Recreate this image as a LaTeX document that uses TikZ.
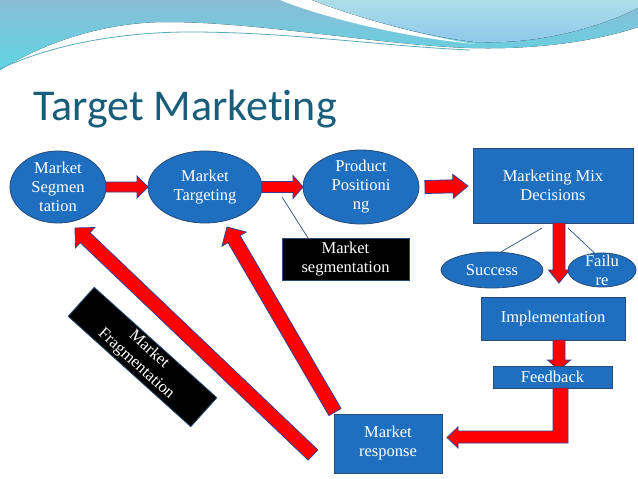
\documentclass[tikz,border=0pt]{standalone}
\usepackage{fontspec}
\newfontfamily\titlefont[Ligatures=NoCommon]{Carlito}
\newfontfamily\boxfont{Liberation Serif}
\usetikzlibrary{shapes.geometric,calc}
\definecolor{boxblue}{RGB}{31,111,192}
\definecolor{edgeblue}{RGB}{40,75,120}
\definecolor{arrowedge}{RGB}{60,60,140}
\definecolor{lineblue}{RGB}{40,80,130}
\definecolor{titleteal}{RGB}{24,93,122}
\definecolor{bgtop}{RGB}{136,190,214}
\definecolor{bgbot}{RGB}{96,212,228}
\definecolor{lighttop}{RGB}{172,222,232}
\definecolor{lightbot}{RGB}{140,200,236}
\definecolor{wavestroke}{RGB}{90,170,190}
\newcommand\nodefont{\boxfont\fontsize{16.5}{19}\selectfont}
% block arrow: [opts]{from}{to}{shaft half width}{head half width}{head length}  (numbers in pt)
\newcommand\blockarrow[6][]{%
  \coordinate (bah) at ($(#3)!#6pt!(#2)$);
  \draw[redarrow,#1] ($(#2)!#4pt!90:(#3)$) -- ($(bah)!#4pt!90:(#3)$) -- ($(bah)!#5pt!90:(#3)$)
    -- (#3) -- ($(bah)!#5pt!-90:(#3)$) -- ($(bah)!#4pt!-90:(#3)$) -- ($(#2)!#4pt!-90:(#3)$) -- cycle;
}
\tikzset{
  txt/.style={text=white, font=\nodefont, align=center, inner sep=0pt},
  bluebox/.style={draw=edgeblue, fill=boxblue, line width=0.8pt, inner sep=0pt, outer sep=0pt, txt},
  blueell/.style={bluebox, ellipse},
  blackbox/.style={draw=edgeblue, fill=black, line width=0.8pt, inner sep=0pt, outer sep=0pt, txt},
  callout/.style={draw=lineblue, line width=0.7pt},
  redarrow/.style={fill=red, draw=arrowedge, line width=0.8pt, line join=miter}
}
\begin{document}
\begin{tikzpicture}[x=1pt,y=-1pt]
\useasboundingbox (0,0) rectangle (638,479);
\fill[white] (0,0) rectangle (638,479);
% background wave
\fill[top color=bgtop, bottom color=bgbot] (0,0) -- (638,0) -- (638,27)
  .. controls (600,40) and (540,50) .. (470,48)
  .. controls (380,45) and (260,22) .. (167,22)
  .. controls (100,22) and (40,45) .. (0,70) -- cycle;
\fill[white] (280,0) .. controls (330,20) and (410,38) .. (475,44)
  .. controls (420,36) and (350,15) .. (312,0) -- cycle;
\fill[top color=lighttop, bottom color=lightbot] (312,0) .. controls (350,15) and (420,36) .. (475,42)
  .. controls (550,45) and (610,22) .. (638,8) -- (638,0) -- cycle;
\draw[wavestroke, line width=0.8pt] (0,69) .. controls (50,45) and (120,32) .. (190,32)
  .. controls (290,32) and (380,46) .. (470,50);
% title
\node[anchor=base west, inner sep=0pt, text=titleteal, font=\titlefont\fontsize{44}{48}\selectfont] (title) at (33,120) {Target Marketing};
% nodes
\node[blueell, minimum width=96pt, minimum height=72pt, label={[txt]center:{Market\\Segmen\\tation}}] (seg) at (58,187) {};
\node[blueell, minimum width=114pt, minimum height=72pt, label={[txt]center:{Market\\Targeting}}] (targ) at (205,187) {};
\node[blueell, minimum width=116pt, minimum height=74pt, label={[txt]center:{Product\\Positioni\\ng}}] (pos) at (361,187) {};
\node[bluebox, minimum width=160pt, minimum height=75pt] (mmd) at (553,185.5) {Marketing Mix\\Decisions};
\node[blackbox, minimum width=127pt, minimum height=42pt] (mseg) at (345.5,259) {Market\\segmentation};
\node[blueell, minimum width=102pt, minimum height=36pt, label={[txt]center:{Success}}] (succ) at (492,270) {};
\node[blueell, minimum width=68pt, minimum height=34pt, label={[txt]center:{Failu\\re}}] (fail) at (602,270) {};
\node[bluebox, minimum width=144pt, minimum height=43pt] (impl) at (553,318.5) {Implementation};
\blockarrow{559,340}{559,370}{6}{11.5}{10}
\node[bluebox, minimum width=119pt, minimum height=22pt] (fb) at (552.5,377) {Feedback};
\node[bluebox, minimum width=108pt, minimum height=59pt] (resp) at (388,443.5) {Market\\response};
\node[blackbox, rotate=-42, minimum width=165pt, minimum height=39pt] (frag) at (142.5,357) {Market\\Fragmentation};
% coordinates for arrow ends
\coordinate (posout) at ($(pos.east)+(6,0)$);
\coordinate (mmdin) at ($(mmd.west)+(-5,0.5)$);
\coordinate (mmdout) at (559,223);
\coordinate (implin) at (559,283);
\coordinate (r1tail) at (335,412);
\coordinate (r1tip) at (227,227);
\coordinate (r2tail) at (313,455);
\coordinate (r2tip) at (75,228);
% red arrows
\blockarrow{seg.east}{targ.west}{5}{11}{11}
\blockarrow{targ.east}{pos.west}{5.5}{11.5}{10}
\blockarrow{posout}{mmdin}{6.5}{12}{15}
\blockarrow{mmdout}{implin}{6}{10.5}{13}
\blockarrow{r1tail}{r1tip}{7}{14}{14}
\blockarrow{r2tail}{r2tip}{7}{14}{14}
\draw[redarrow] (553,388) -- (568,388) -- (568,443) -- (458,443) -- (458,448) -- (447,437.5)
  -- (458,427) -- (458,431) -- (553,431) -- cycle;
% callout lines
\coordinate (c1a) at (282,197);
\coordinate (c1b) at (308,238);
\draw[callout] (c1a) -- (c1b);
\coordinate (c2a) at (542,228);
\coordinate (c2b) at (500,252.5);
\draw[callout] (c2a) -- (c2b);
\coordinate (c3a) at (568,228);
\coordinate (c3b) at (595,253.5);
\draw[callout] (c3a) -- (c3b);
\end{tikzpicture}
\end{document}
